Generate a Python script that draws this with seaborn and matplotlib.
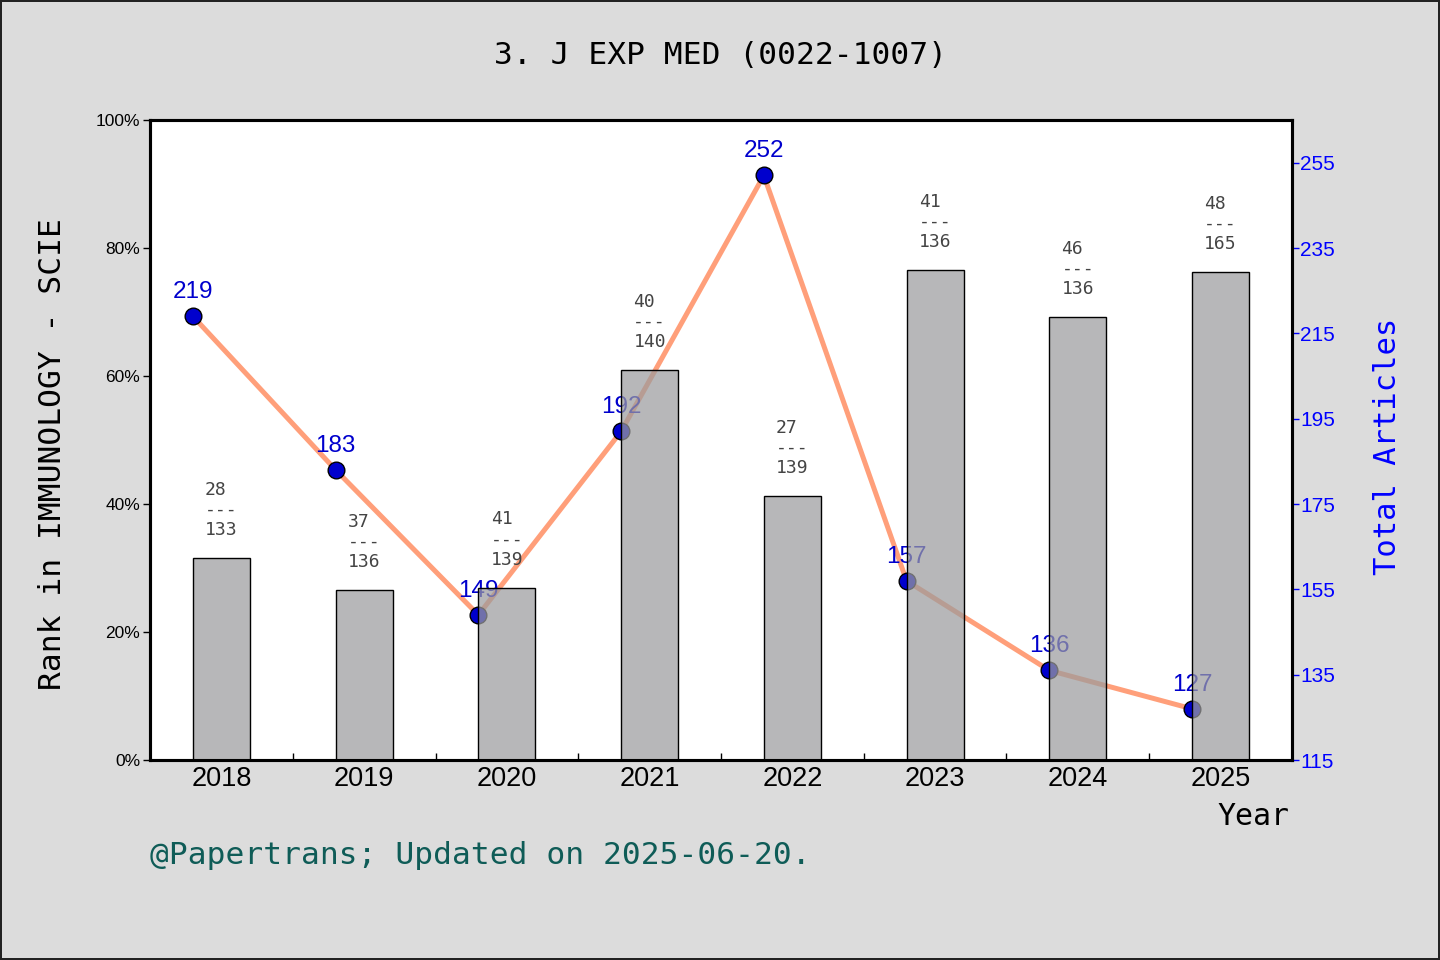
import matplotlib.pyplot as plt
import matplotlib.ticker as mticker
import seaborn as sns
import pandas as pd

years = [2018, 2019, 2020, 2021, 2022, 2023, 2024, 2025]
rank_pct = [31.5, 26.5, 26.9, 60.9, 41.2, 76.5, 69.2, 76.2]
rank_num = [28, 37, 41, 40, 27, 41, 46, 48]
rank_total = [133, 136, 139, 140, 139, 136, 136, 165]
articles = [219, 183, 149, 192, 252, 157, 136, 127]

sns.set_style('ticks')
plt.rcParams['font.family'] = ['DejaVu Sans Mono', 'DejaVu Sans']
plt.rcParams['text.color'] = 'black'
plt.rcParams['axes.labelcolor'] = 'black'
sans = ['Liberation Sans', 'DejaVu Sans']

df = pd.DataFrame({'year': years, 'pct': rank_pct, 'articles': articles})
df['bar_x'] = df.year + 0.2

fig = plt.figure(figsize=(14.4, 9.6), dpi=100, facecolor='#dcdcdc',
                 edgecolor='#222222', linewidth=1.5)
ax = fig.add_axes([0.1042, 0.2083, 0.7930, 0.6667])
ax2 = ax.twinx()

# line on the right axis, drawn underneath the bars
sns.lineplot(data=df, x='year', y='articles', ax=ax2, color='#ff9f7a', lw=3.6,
             marker='o', markersize=12, markerfacecolor='#0000cd',
             markeredgecolor='black', markeredgewidth=1)
for x, v in zip(years, articles):
    ax2.annotate(str(v), (x, v), xytext=(0, 17.5), textcoords='offset points',
                 ha='center', va='center', color='#0000cd', fontsize=17.5,
                 family=sans)

sns.barplot(data=df, x='bar_x', y='pct', ax=ax, native_scale=True, width=0.4,
            errorbar=None, edgecolor='black', linewidth=1)
for p in ax.patches:
    p.set_facecolor((0.612, 0.612, 0.62, 0.72))
for x, h, n, t in zip(df.bar_x, rank_pct, rank_num, rank_total):
    ax.text(x, h + 3, f'{n}\n---\n{t}', ha='center', va='bottom', ma='left',
            color='#444444', fontsize=13, linespacing=1.15)

ax.set_zorder(ax2.get_zorder() + 1)
ax.patch.set_visible(False)
ax2.patch.set_visible(True)
ax2.set_facecolor('white')

ax.set_xlim(2017.7, 2025.7)
ax.set_ylim(0, 100)
ax2.set_ylim(115, 265)
ax.set_yticks(range(0, 101, 20))
ax.yaxis.set_major_formatter(mticker.PercentFormatter(100, decimals=0))
ax2.set_yticks(range(115, 256, 20))

ax.set_xticks(df.bar_x)
ax.set_xticklabels([str(y) for y in years])
ax.set_xticks([y + 0.7 for y in years[:-1]], minor=True)
ax.tick_params(axis='x', which='major', length=0, pad=4, labelsize=19.5, colors='black')
ax.tick_params(axis='x', which='minor', direction='in', length=5, width=1, color='black')
ax.tick_params(axis='y', length=5, width=1, pad=2, labelsize=12.5, colors='black')
ax2.tick_params(axis='y', length=5, width=1, pad=1, labelsize=15, colors='#0000ff')
for lab in ax.get_xticklabels() + ax.get_yticklabels() + ax2.get_yticklabels():
    lab.set_family(sans)

for a in (ax, ax2):
    for s in a.spines.values():
        s.set_linewidth(2.2)
        s.set_color('black')
        s.set_visible(True)

ax.set_xlabel('Year', fontsize=21.5, loc='right')
ax.xaxis.set_label_coords(0.998, -0.066)
ax.set_ylabel('Rank in IMMUNOLOGY - SCIE', fontsize=22.5)
ax.yaxis.set_label_coords(-0.073, 0.478)
ax2.set_ylabel('Total Articles', fontsize=22, color='#0000ff')
ax2.yaxis.set_label_coords(1.071, 0.49)

fig.suptitle('3. J EXP MED (0022-1007)', fontsize=22.5, y=0.942, va='center')
fig.text(0.1042, 0.109, '@Papertrans; Updated on 2025-06-20.', fontsize=22.5,
         color='#0f5c57', va='center')

fig.savefig('out.png', dpi=100)
